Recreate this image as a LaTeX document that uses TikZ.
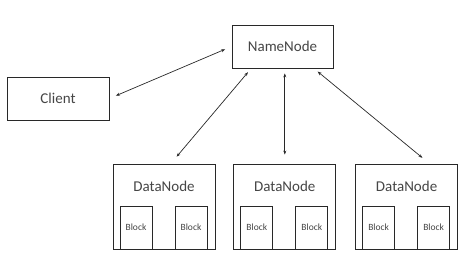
\documentclass[tikz,border=0pt]{standalone}
\usepackage{fontspec}
\setmainfont{Carlito}
\usetikzlibrary{arrows.meta,positioning,calc}
\definecolor{ink}{RGB}{40,40,40}
\definecolor{txt}{RGB}{70,70,70}
\tikzset{
  every picture/.style={x=1pt, y=1pt, color=ink, line width=0.8pt},
  box/.style={draw=ink, fill=white, inner sep=0pt, text=txt, font=\fontsize{15}{18}\selectfont},
  master/.style={box, minimum width=101pt, minimum height=43pt},
  slave/.style={box, minimum width=102pt, minimum height=85pt},
  block/.style={box, minimum width=32pt, minimum height=43pt, font=\fontsize{9.5}{11}\selectfont},
  title/.style={text=txt, inner sep=0pt, font=\fontsize{15}{18}\selectfont},
  flow/.style={{Stealth[length=4pt,width=3pt]}-{Stealth[length=4pt,width=3pt]}, line width=0.7pt},
}

\begin{document}
\begin{tikzpicture}[node distance=18pt]
  \useasboundingbox (0,0) rectangle (474,270);
  \node[master] (nn) at (282.5,223.5) {NameNode};
  \node[master, minimum width=102pt] (client) at (58,171.5) {Client};
  \node[slave] (dn1) at (164,63.5) {};
  \node[slave, right=18pt of dn1] (dn2) {};
  \node[slave, right=19pt of dn2] (dn3) {};
  \foreach \d in {dn1,dn2,dn3} {
    \node[title] (\d-lbl) at ($(\d.north)+(0,-23)$) {DataNode};
    \node[block, above right=0pt and 7pt of \d.south west] (\d-a) {Block};
    \node[block, above left=0pt and 8pt of \d.south east] (\d-b) {Block};
  }
  \draw[flow, shorten <=7pt, shorten >=7pt] (client.east) -- (nn.west);
  \draw[flow, shorten <=9pt, shorten >=5pt] (dn1.81) -- (nn.215);
  \draw[flow, shorten <=9pt, shorten >=5pt] (dn2.north) -- (dn2.north |- nn.south);
  \draw[flow, shorten <=9pt, shorten >=5pt] (dn3.62) -- (nn.325);
\end{tikzpicture}
\end{document}
